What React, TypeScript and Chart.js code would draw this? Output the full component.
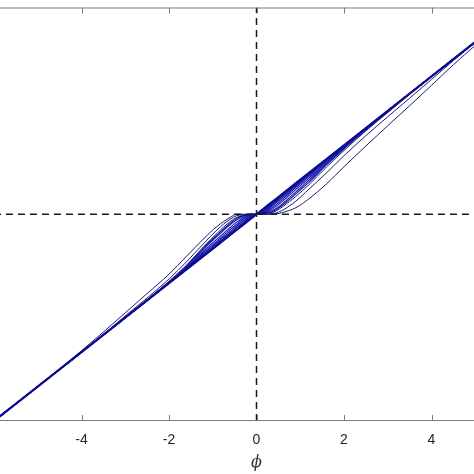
import { useEffect, useRef } from "react";
import { Chart, registerables, type Plugin } from "chart.js";

Chart.register(...registerables);

// phi grid shared by every curve
const phi = [-6, -4.5, -4, -3.5, -3, -2.5, -2, -1.6, -1.2, -0.9, -0.6, -0.45, -0.3, -0.15, 0, 0.15, 0.3, 0.45, 0.6, 0.9, 1.2, 1.6, 2, 2.5, 3, 3.5, 4, 4.5, 5, 6];

// y = phi, the line the whole family converges to
const identity = [-6, -4.5, -4, -3.5, -3, -2.5, -2, -1.6, -1.2, -0.9, -0.6, -0.45, -0.3, -0.15, 0, 0.15, 0.3, 0.45, 0.6, 0.9, 1.2, 1.6, 2, 2.5, 3, 3.5, 4, 4.5, 5, 6];

// family of curves, widest dead-zone first
const curve1 = [-6, -4.48, -3.96, -3.42, -2.86, -2.3, -1.74, -1.22, -0.7, -0.35, -0.09, 0, 0, 0, 0, 0, 0, 0.01, 0.05, 0.19, 0.45, 0.88, 1.38, 1.98, 2.57, 3.15, 3.74, 4.34, 4.9, 6];
const curve2 = [-6, -4.5, -4, -3.49, -2.95, -2.43, -1.88, -1.38, -0.84, -0.45, -0.14, -0.04, -0.01, 0, 0, 0, 0.01, 0.04, 0.12, 0.38, 0.73, 1.2, 1.7, 2.28, 2.83, 3.37, 3.91, 4.46, 4.98, 6];
const curve3 = [-6, -4.5, -4, -3.5, -2.98, -2.48, -1.95, -1.48, -0.93, -0.55, -0.21, -0.09, -0.03, 0, 0, 0, 0.03, 0.1, 0.22, 0.52, 0.86, 1.37, 1.85, 2.42, 2.95, 3.48, 3.99, 4.5, 5, 6];
const curve4 = [-6, -4.5, -4, -3.5, -3, -2.49, -1.96, -1.5, -0.96, -0.6, -0.26, -0.12, -0.04, 0, 0, 0.02, 0.05, 0.14, 0.27, 0.59, 0.93, 1.43, 1.9, 2.45, 2.98, 3.5, 4, 4.5, 5, 6];
const curve5 = [-6, -4.5, -4, -3.5, -3, -2.49, -1.97, -1.53, -1.0, -0.64, -0.3, -0.16, -0.06, -0.01, 0, 0.01, 0.06, 0.17, 0.31, 0.65, 0.99, 1.47, 1.93, 2.47, 2.99, 3.5, 4, 4.5, 5, 6];
const curve6 = [-6, -4.5, -4, -3.5, -3, -2.5, -1.98, -1.55, -1.06, -0.72, -0.38, -0.23, -0.1, -0.02, 0, 0.02, 0.1, 0.23, 0.38, 0.72, 1.05, 1.51, 1.96, 2.48, 3, 3.5, 4, 4.5, 5, 6];
const curve7 = [-6, -4.5, -4, -3.5, -3, -2.5, -1.99, -1.57, -1.1, -0.78, -0.44, -0.29, -0.14, -0.03, 0, 0.03, 0.14, 0.28, 0.44, 0.78, 1.1, 1.55, 1.98, 2.49, 3, 3.5, 4, 4.5, 5, 6];
const curve8 = [-6, -4.5, -4, -3.5, -3, -2.5, -2, -1.58, -1.14, -0.82, -0.5, -0.34, -0.19, -0.05, 0, 0.05, 0.18, 0.33, 0.49, 0.82, 1.14, 1.57, 1.99, 2.5, 3, 3.5, 4, 4.5, 5, 6];
const curve9 = [-6, -4.5, -4, -3.5, -3, -2.5, -2, -1.59, -1.17, -0.86, -0.54, -0.39, -0.23, -0.08, 0, 0.07, 0.21, 0.37, 0.53, 0.85, 1.16, 1.58, 2, 2.5, 3, 3.5, 4, 4.5, 5, 6];
const curve10 = [-6, -4.5, -4, -3.5, -3, -2.5, -2, -1.6, -1.19, -0.88, -0.57, -0.42, -0.26, -0.1, 0, 0.09, 0.24, 0.4, 0.56, 0.87, 1.18, 1.59, 2, 2.5, 3, 3.5, 4, 4.5, 5, 6];
const curve11 = [-6, -4.5, -4, -3.5, -3, -2.5, -2, -1.6, -1.2, -0.89, -0.59, -0.44, -0.28, -0.12, 0, 0.11, 0.26, 0.42, 0.58, 0.88, 1.19, 1.6, 2, 2.5, 3, 3.5, 4, 4.5, 5, 6];
const curve12 = [-6, -4.5, -4, -3.5, -3, -2.5, -2, -1.6, -1.2, -0.9, -0.6, -0.45, -0.3, -0.14, 0, 0.13, 0.28, 0.44, 0.59, 0.89, 1.2, 1.6, 2, 2.5, 3, 3.5, 4, 4.5, 5, 6];

// dashed zero lines
const axisSpan = [-6, 6];
const xTicks = [-6, -4, -2, 0, 2, 4, 6];

const AXIS_GRAY = "#7a7a7a";
const TICK_LEN = 6;

/** MATLAB-style box: axis lines at top and bottom with ticks pointing inward. */
const boxPlugin: Plugin<"line"> = {
  id: "matlabBox",
  afterDraw(chart) {
    const { ctx, chartArea } = chart;
    const xScale = chart.scales.x;
    ctx.save();
    ctx.strokeStyle = AXIS_GRAY;
    ctx.lineWidth = 1;
    ctx.beginPath();
    ctx.moveTo(chartArea.left, chartArea.top + 0.5);
    ctx.lineTo(chartArea.right, chartArea.top + 0.5);
    ctx.moveTo(chartArea.left, chartArea.bottom - 0.5);
    ctx.lineTo(chartArea.right, chartArea.bottom - 0.5);
    for (const value of xTicks) {
      const x = Math.round(xScale.getPixelForValue(value)) + 0.5;
      ctx.moveTo(x, chartArea.top);
      ctx.lineTo(x, chartArea.top + TICK_LEN);
      ctx.moveTo(x, chartArea.bottom);
      ctx.lineTo(x, chartArea.bottom - TICK_LEN);
    }
    ctx.stroke();
    ctx.restore();
  }
};

const curves = [curve1, curve2, curve3, curve4, curve5, curve6, curve7, curve8, curve9, curve10, curve11, curve12];

export default function App() {
  const canvasRef = useRef<HTMLCanvasElement>(null);

  useEffect(() => {
    const canvas = canvasRef.current;
    if (!canvas) return;

    const toPoints = (ys: number[]) => phi.map((x, i) => ({ x, y: ys[i] }));

    const dashed = {
      borderColor: "#1a1a1a",
      borderWidth: 1.5,
      borderDash: [7, 5],
      pointRadius: 0,
      fill: false
    };

    const chart = new Chart(canvas, {
      type: "line",
      data: {
        datasets: [
          { ...dashed, data: axisSpan.map((x) => ({ x, y: 0 })) },
          { ...dashed, data: axisSpan.map((y) => ({ x: 0, y })) },
          {
            data: toPoints(identity),
            borderColor: "#0c0c8c",
            borderWidth: 2.2,
            pointRadius: 0,
            fill: false
          },
          ...curves.map((ys, i) => ({
            data: toPoints(ys),
            borderColor: i < 3 ? "#1c1c78" : "#0f0fa8",
            borderWidth: i < 3 ? 1 : 1.1,
            pointRadius: 0,
            cubicInterpolationMode: "monotone" as const,
            fill: false
          }))
        ]
      },
      options: {
        animation: false,
        responsive: true,
        maintainAspectRatio: false,
        events: [],
        layout: { padding: { left: 30, right: 30, top: 7.5, bottom: 0 } },
        plugins: { legend: { display: false }, tooltip: { enabled: false } },
        scales: {
          x: {
            type: "linear",
            min: -6,
            max: 6,
            grid: { display: false, drawTicks: false },
            border: { display: false },
            afterFit: (scale) => {
              scale.height = 53;
            },
            afterBuildTicks: (scale) => {
              scale.ticks = xTicks.map((value) => ({ value }));
            },
            ticks: {
              autoSkip: false,
              maxRotation: 0,
              padding: 11,
              color: "#262626",
              font: { family: "'Liberation Sans', Arial, sans-serif", size: 14 },
              callback: (value) => `${value}`
            },
            title: {
              display: true,
              text: "ϕ",
              color: "#333333",
              padding: { top: 0, bottom: 2 },
              font: { family: "'DejaVu Serif', serif", size: 16, style: "italic" }
            }
          },
          y: {
            type: "linear",
            display: false,
            min: -6,
            max: 6
          }
        }
      },
      plugins: [boxPlugin]
    });

    return () => chart.destroy();
  }, []);

  return (
    <div style={{ position: "fixed", left: 0, top: 0, width: 474, height: 474, overflow: "hidden", background: "#fff" }}>
      <div style={{ position: "absolute", left: -36, top: 0, width: 585, height: 474 }}>
        <canvas ref={canvasRef} />
      </div>
    </div>
  );
}
